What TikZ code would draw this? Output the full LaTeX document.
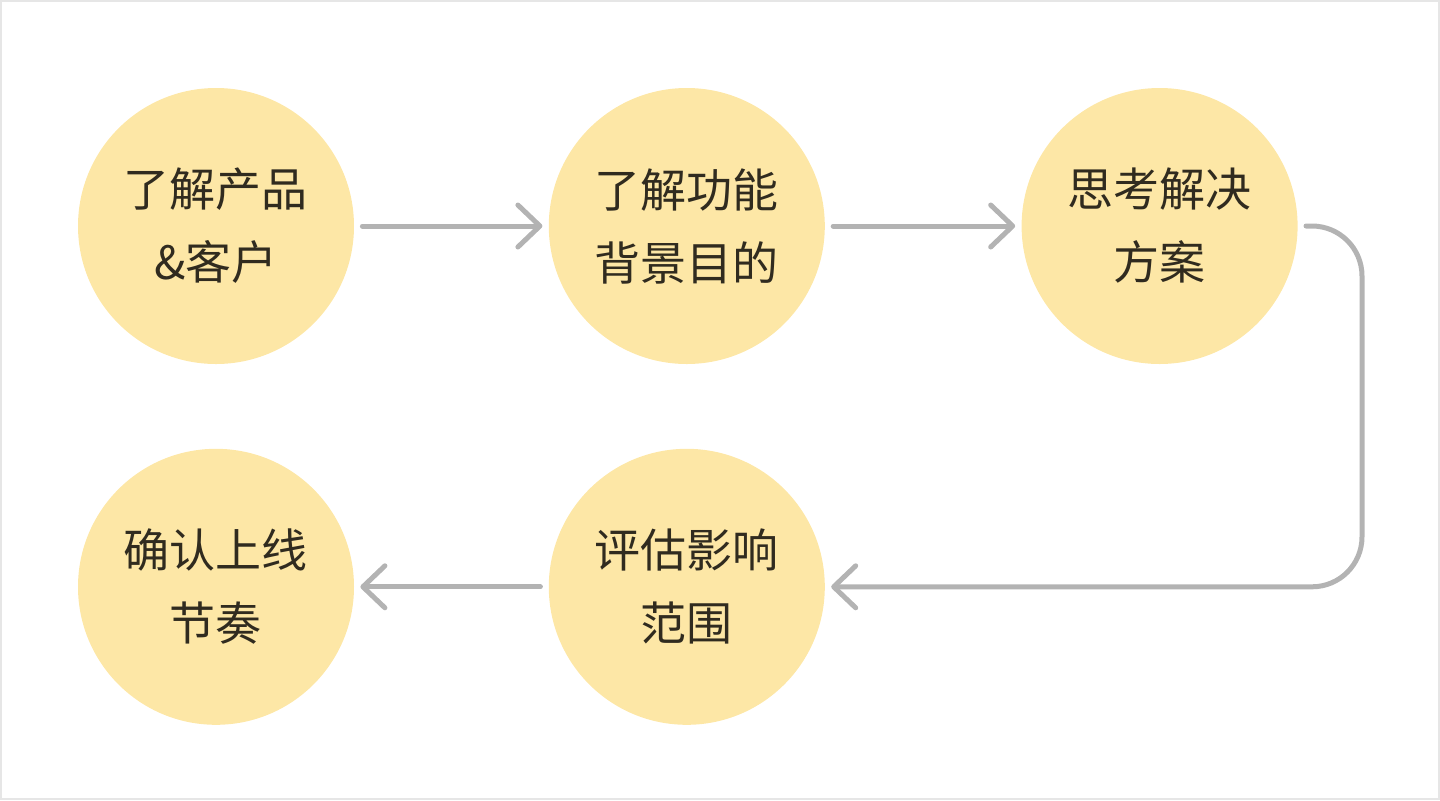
\documentclass[tikz,border=0pt]{standalone}
\usepackage{fontspec}
\setmainfont{Noto Sans CJK SC}
\usetikzlibrary{positioning,arrows.meta}
\definecolor{stepfill}{HTML}{FDE7A6}
\definecolor{steptext}{HTML}{302B1F}
\definecolor{flowgray}{HTML}{B3B3B3}
\definecolor{framegray}{HTML}{E6E6E6}
\tikzset{
    task node/.style = {
        circle,
        fill = stepfill,
        text = steptext,
        minimum size = 138pt,
        inner sep = 0pt,
        align = center,
        font = \fontsize{23pt}{36.5pt}\selectfont,
        },
    flow edge/.style = {
        draw = flowgray,
        line width = 2.5pt,
        line cap = round,
        line join = round,
        shorten <= 4pt,
        shorten >= 3pt,
        -{Straight Barb[length=11pt,width=21pt,line cap=round,line join=round]},
        },
}
\begin{document}
\begin{tikzpicture}
            \useasboundingbox (-108pt,113pt) rectangle (612pt,-287pt);
            \draw[framegray, line width=1pt] (-107.5pt,112.5pt) rectangle (611.5pt,-286.5pt);

            \node[task node] (1) {了解产品\\\&客户};
            \node[task node, right=97pt of 1] (2) {了解功能\\背景目的};
            \node[task node, right=98pt of 2] (3) {思考解决\\方案};
            \node[task node, below=42pt of 2] (4) {评估影响\\范围};
            \node[task node, below=42pt of 1] (5) {确认上线\\节奏};

            \coordinate[right=32pt of 3] (turn);

            \path (1) edge[flow edge] (2);
            \path (2) edge[flow edge] (3);
            \draw[flow edge, rounded corners=25pt] (3) -- (turn) |- (4);
            \path (4) edge[flow edge] (5);
        \end{tikzpicture}
\end{document}
